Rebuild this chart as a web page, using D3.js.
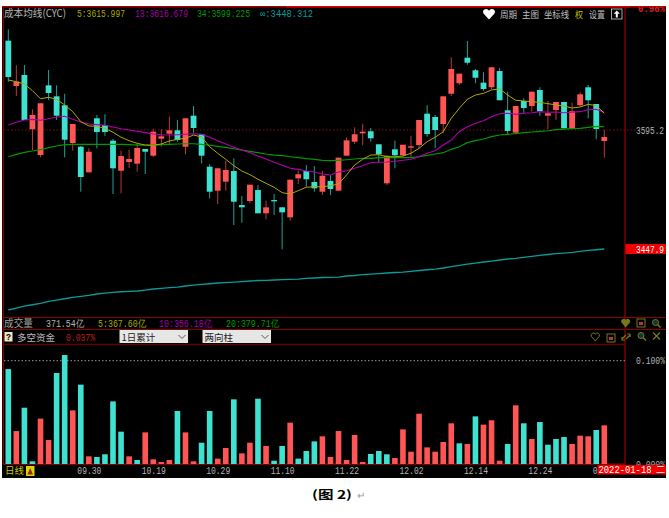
<!DOCTYPE html>
<html><head><meta charset="utf-8">
<script src="https://cdn.jsdelivr.net/npm/d3@7"></script>
<style>html,body{margin:0;padding:0;background:#fff}svg{display:block}</style>
</head><body><div id="c"></div>
<script>
const opens=[3705.8,3649.7,3663.3,3596.1,3564.2,3650.5,3636.9,3625.8,3579.1,3574.5,
3542.8,3609.7,3601.4,3582.0,3544.8,3555.6,3553.5,3571.7,3563.4,3584.4,
3590.6,3594.8,3574.5,3612.9,3589.9,3549.8,3520.1,3531.2,3544.4,3502.3,
3507.3,3520.9,3492.1,3508.5,3499.5,3487.1,3535.4,3544.4,3530.8,3518.8,
3532.1,3520.1,3563.4,3580.7,3591.1,3593.6,3577.5,3529.2,3571.3,3563.9,
3573.3,3576.6,3615.4,3611.3,3602.6,3640.1,3653.0,3684.7,3669.1,3653.8,
3648.1,3668.2,3619.6,3591.9,3631.1,3624.9,3644.7,3612.9,3620.0,3629.9,
3596.4,3625.8,3648.1,3627.4,3581.6];
const closes=[3660.8,3655.0,3607.6,3613.8,3628.3,3641.0,3612.9,3583.2,3602.6,3537.0,
3568.3,3592.7,3592.7,3547.8,3563.0,3559.3,3572.9,3568.3,3593.1,3587.4,
3594.8,3582.8,3609.7,3597.7,3563.4,3518.8,3547.8,3545.7,3506.4,3499.5,
3527.5,3492.1,3499.5,3506.9,3493.3,3533.7,3540.4,3534.2,3523.0,3538.6,
3522.2,3560.9,3582.4,3589.9,3593.1,3584.9,3565.1,3563.4,3563.9,3577.0,
3575.0,3607.6,3590.2,3595.2,3636.9,3670.7,3664.9,3678.5,3659.9,3646.0,
3672.8,3632.0,3594.0,3624.9,3622.4,3642.6,3618.4,3615.9,3629.9,3597.3,
3618.4,3639.4,3632.0,3596.4,3586.5];
const highs=[3719.9,3675.3,3675.7,3620.8,3628.3,3669.5,3650.5,3640.1,3602.6,3575.4,
3572.5,3613.8,3614.6,3584.1,3569.6,3570.4,3578.7,3571.7,3596.4,3596.1,
3611.7,3607.6,3609.7,3624.9,3590.2,3553.1,3547.8,3557.2,3560.2,3513.5,
3527.5,3527.1,3507.7,3516.0,3499.9,3533.7,3545.3,3551.9,3550.6,3544.4,
3539.5,3560.9,3586.2,3598.5,3602.6,3597.7,3577.5,3563.4,3582.0,3577.0,
3587.8,3607.6,3625.8,3613.8,3636.9,3685.2,3664.9,3705.4,3670.7,3666.6,
3672.8,3672.0,3642.6,3624.9,3634.4,3642.6,3648.1,3631.1,3629.9,3629.9,
3629.0,3641.9,3650.9,3627.4,3595.2];
const lows=[3655.0,3637.3,3607.6,3570.4,3561.4,3632.3,3607.6,3561.4,3569.6,3518.8,
3542.8,3572.5,3587.8,3516.0,3516.8,3548.2,3543.6,3540.7,3561.8,3574.5,
3576.6,3580.7,3565.1,3591.5,3554.0,3510.6,3503.6,3520.1,3477.6,3480.4,
3504.5,3492.1,3484.6,3490.0,3447.5,3482.9,3528.3,3525.0,3518.8,3514.7,
3514.7,3520.1,3563.4,3577.9,3576.3,3580.7,3555.2,3527.1,3547.8,3562.1,
3562.1,3572.5,3586.9,3572.5,3591.1,3637.3,3650.9,3676.0,3653.0,3643.9,
3645.6,3632.0,3589.9,3591.1,3615.9,3617.9,3612.5,3596.1,3607.6,3597.3,
3596.4,3624.0,3609.7,3583.7,3560.9];
const ma5=[3657.1,3655.0,3652.1,3643.9,3633.9,3635.7,3633.2,3626.2,3617.9,3605.5,
3600.2,3599.8,3597.3,3592.4,3586.2,3582.0,3578.7,3576.6,3576.3,3577.9,
3581.6,3583.7,3584.9,3589.0,3586.5,3574.5,3566.4,3558.9,3551.0,3544.4,
3539.9,3534.2,3529.2,3524.3,3517.6,3516.0,3520.1,3524.3,3525.0,3525.0,
3526.2,3528.3,3539.5,3551.9,3558.9,3564.2,3564.6,3562.1,3562.1,3563.0,
3566.4,3572.5,3580.7,3586.2,3593.1,3609.7,3622.1,3633.2,3638.5,3640.6,
3644.7,3646.3,3638.5,3632.0,3631.1,3630.2,3629.5,3627.8,3626.2,3624.9,
3622.4,3623.7,3627.0,3625.3,3616.0];
const ma13=[3601.4,3604.7,3607.6,3608.4,3607.2,3609.2,3611.3,3612.2,3608.4,3605.1,
3602.6,3601.8,3601.0,3598.9,3596.8,3595.2,3593.6,3591.9,3590.2,3589.4,
3589.0,3589.4,3589.9,3590.6,3589.9,3586.2,3582.0,3577.9,3573.8,3570.4,
3567.1,3563.0,3559.3,3555.2,3551.5,3547.8,3546.5,3544.4,3543.2,3540.7,
3539.5,3543.2,3544.8,3547.8,3551.0,3554.7,3555.2,3555.6,3556.5,3557.7,
3558.9,3562.1,3566.4,3569.6,3576.6,3582.8,3593.1,3599.3,3603.5,3606.7,
3611.7,3615.4,3615.9,3614.6,3615.9,3616.6,3617.9,3617.1,3617.5,3616.6,
3617.1,3617.9,3620.3,3620.8,3616.7];
const ma34=[3562.1,3565.1,3567.6,3569.2,3570.8,3573.3,3575.4,3577.0,3577.5,3577.5,
3577.5,3577.5,3577.5,3577.5,3577.5,3577.0,3576.6,3576.3,3576.6,3577.0,
3577.5,3577.9,3578.2,3578.2,3577.5,3576.3,3575.0,3573.8,3572.0,3570.4,
3568.8,3567.1,3565.5,3564.2,3563.4,3562.1,3560.9,3559.7,3558.9,3557.7,
3557.2,3557.7,3558.4,3559.3,3560.2,3560.2,3560.9,3561.4,3560.9,3560.9,
3560.9,3562.1,3563.9,3565.5,3567.1,3571.3,3574.5,3579.5,3582.0,3584.1,
3586.9,3589.0,3589.9,3590.6,3591.9,3592.7,3593.6,3594.3,3595.6,3596.4,
3596.8,3597.3,3598.5,3599.8,3599.2];
const maInf=[3372.4,3374.8,3377.3,3378.9,3380.6,3383.1,3384.7,3386.3,3388.1,3389.3,
3390.6,3392.2,3393.4,3394.3,3395.0,3395.5,3395.9,3397.1,3398.4,3399.2,
3400.2,3400.8,3402.1,3403.3,3404.2,3404.9,3405.8,3406.4,3407.0,3407.6,
3408.3,3408.9,3409.1,3409.5,3409.9,3410.4,3410.7,3411.6,3412.0,3412.6,
3412.8,3413.2,3414.5,3415.1,3416.1,3416.9,3417.5,3418.2,3418.8,3419.4,
3420.3,3421.3,3422.2,3423.1,3424.4,3426.2,3427.5,3429.3,3430.5,3431.8,
3433.0,3434.3,3435.5,3436.4,3437.6,3438.8,3440.1,3441.1,3442.1,3442.9,
3443.8,3445.0,3446.3,3447.0,3447.9];
const fundValues=[.0919,.0319,.0545,.0026,.0439,.0232,.0881,.1055,.0519,.0768,
.0074,.0068,.0094,.0606,.0313,.0074,.0039,.0306,.0045,.0019,
.0039,.0513,.0306,.0026,.0206,.0513,.0052,.0155,.0626,.0103,
.0206,.0632,.0174,.0032,.0174,.0400,.0052,.0126,.0219,.0268,
.0068,.0319,.0039,.0281,.0019,.0097,.0126,.0094,.0058,.0335,
.0119,.0487,.0161,.0119,.0213,.0394,.0200,.0194,.0461,.0381,
.0423,.0032,.0194,.0568,.0394,.0242,.0406,.0187,.0242,.0261,
.0194,.0274,.0268,.0329,.0374];
const fundSides=["d","u","d","d","u","u","d","d","u","d",
"u","d","d","d","d","u","d","u","u","u",
"u","d","u","u","d","d","u","u","d","u",
"u","d","u","d","d","u","d","d","d","u",
"u","u","u","u","u","d","d","d","u","u",
"u","u","u","u","u","u","d","u","d","u",
"u","u","d","u","d","u","d","d","d","d",
"u","u","u","d","u"];
const tickIndex=[10,18,26,34,42,50,58,66,74];
const tickLabels=["09.30","10.19","10.29","11.10","11.22","12.02","12.14","12.24","01.18"];
const priceTicks=[3595.2];
const fundTicks=[0,0.1];

const W=669,H=518;
const UP="#ff5555",DOWN="#3fe2d0",FRAME="#8c0000",GRAY="#b4b4b4";
const OLIVE="#a8a800",PURPLE="#a800a8",GREEN="#009a00",TEAL="#009c9c";
const MONO="'Liberation Mono','DejaVu Sans Mono',monospace",CJK="'Noto Sans CJK SC',sans-serif";

const svg=d3.select("#c").append("svg").attr("width",W).attr("height",H);
svg.append("rect").attr("x",2).attr("y",6).attr("width",664).attr("height",472).attr("fill","#000");

const x=d3.scaleLinear().domain([0,74]).range([8.3,604.3]);
const y=d3.scaleLinear().domain([3447.9,3595.2]).range([249,130]);
const yf=d3.scaleLinear().domain([0,0.1]).range([464,360.7]);

function txt(s,tx,ty,col,font,size,w,anchor,weight){
  const t=svg.append("text").attr("x",tx).attr("y",ty).attr("fill",col).attr("font-family",font)
   .attr("font-size",size).attr("text-anchor",anchor||"start").text(s);
  if(w){t.attr("textLength",w).attr("lengthAdjust","spacingAndGlyphs");}
  if(weight)t.attr("font-weight",weight);
  return t;
}
const hline=(x1,x2,yy,c,sw)=>svg.append("line").attr("x1",x1).attr("x2",x2).attr("y1",yy).attr("y2",yy).attr("stroke",c).attr("stroke-width",sw||1);
const vline=(xx,y1,y2,c,sw)=>svg.append("line").attr("x1",xx).attr("x2",xx).attr("y1",y1).attr("y2",y2).attr("stroke",c).attr("stroke-width",sw||1);

// frame
hline(2,666,6.7,"#a00000",1.4);
hline(286,630,6.7,"#e00000",1.4);
vline(3.3,7,464,FRAME,1.2);
vline(625,7,464,FRAME,1.3);
hline(3,666,317.5,FRAME);
hline(3,666,329.5,FRAME);
hline(3,625,344.3,FRAME);
hline(3,625,464.2,"#a00000",1.2);

// reference dotted lines
svg.append("line").attr("x1",4).attr("x2",637).attr("y1",y(3595.2)).attr("y2",y(3595.2))
  .attr("stroke","#7a1010").attr("stroke-dasharray","1.5 2");
svg.append("line").attr("x1",4).attr("x2",625).attr("y1",yf(0.1)).attr("y2",yf(0.1))
  .attr("stroke","#9a9a9a").attr("stroke-dasharray","1.5 2");

// candles
const idx=d3.range(opens.length);
const candles=svg.append("g");
candles.selectAll("line").data(idx).join("line")
  .attr("x1",i=>x(i)).attr("x2",i=>x(i)).attr("y1",i=>y(highs[i])).attr("y2",i=>y(lows[i]))
  .attr("stroke",i=>closes[i]>=opens[i]?"#b93a3a":"#23a296").attr("stroke-width",1);
candles.selectAll("rect").data(idx).join("rect")
  .attr("x",i=>x(i)-2.9).attr("width",5.8)
  .attr("y",i=>y(Math.max(opens[i],closes[i])))
  .attr("height",i=>Math.max(1.2,Math.abs(y(opens[i])-y(closes[i]))))
  .attr("fill",i=>closes[i]>=opens[i]?UP:DOWN);

// moving averages
const lineGen=d3.line().x((d,i)=>x(i)).y(d=>y(d));
[[ma34,"#009a00",1.2],[ma13,"#b000b0",1.1],[ma5,"#b0a800",1],[maInf,"#0a9a9a",1.3]].forEach(([s,c,w])=>{
  svg.append("path").attr("d",lineGen(s)).attr("fill","none").attr("stroke",c).attr("stroke-width",w);
});

// fund bars
svg.append("g").selectAll("rect").data(idx).join("rect")
  .attr("x",i=>x(i)-2.8).attr("width",5.6)
  .attr("y",i=>yf(fundValues[i]))
  .attr("height",i=>yf(0)-yf(fundValues[i]))
  .attr("fill",i=>fundSides[i]==="u"?UP:DOWN);

// date axis
const axisB=svg.append("g").attr("transform","translate(0,464)")
  .call(d3.axisBottom(x).tickValues(tickIndex).tickFormat((d,i)=>tickLabels[i]).tickSize(0).tickPadding(1));
axisB.select(".domain").remove();
axisB.selectAll("text").attr("fill",GRAY).attr("font-family",MONO).attr("font-size",10).attr("y",3)
  .attr("dy","0.71em").attr("textLength",24).attr("lengthAdjust","spacingAndGlyphs");

// right axes
const axisP=svg.append("g").attr("transform","translate(636,0)")
  .call(d3.axisRight(y).tickValues(priceTicks).tickFormat(d3.format(".1f")).tickSize(0).tickPadding(0));
axisP.select(".domain").remove();
axisP.selectAll("text").attr("fill",GRAY).attr("font-family",MONO).attr("font-size",10)
  .attr("textLength",28).attr("lengthAdjust","spacingAndGlyphs");
const axisF=svg.append("g").attr("transform","translate(636,0)")
  .call(d3.axisRight(yf).tickValues(fundTicks).tickFormat(d=>d3.format(".3f")(d)+"%").tickSize(0).tickPadding(0));
axisF.select(".domain").remove();
axisF.selectAll("text").attr("fill",GRAY).attr("font-family",MONO).attr("font-size",10)
  .attr("textLength",29).attr("lengthAdjust","spacingAndGlyphs");

// last price tag
svg.append("rect").attr("x",625.5).attr("y",244).attr("width",40.5).attr("height",10).attr("fill","#f00000");
txt("3447.9",636,252.7,"#fff",MONO,10,28);

// top-right scale
txt("0.98%",638,12,"#e02020",MONO,10,27,"start","bold");
svg.append("rect").attr("x",626).attr("y",0).attr("width",43).attr("height",6).attr("fill","#fff");
hline(626,666,6.7,"#c00000",1.2);

// header
txt("成本均线(CYC)",4,17,"#b8b8b8",CJK,10.5,62);
txt("5:3615.997",77,17.3,OLIVE,MONO,10,48);
txt("13:3616.679",135,17.3,PURPLE,MONO,10,53);
txt("34:3599.225",197,17.3,GREEN,MONO,10,53);
txt("∞:3448.312",260,17.3,TEAL,MONO,10,53);

// top toolbar
svg.append("path").attr("d","M489 19.5 L483.5 13.5 A3 3 0 0 1 489 10.7 A3 3 0 0 1 494.5 13.5 Z").attr("fill","#fff");
txt("周期",500,18,"#c0c0c0",CJK,9,17);
txt("主图",522,18,"#c0c0c0",CJK,9,17);
txt("坐标线",544,18,"#c0c0c0",CJK,9,25);
txt("权",575,18,"#c8c800",CJK,9,8);
txt("设置",589,18,"#c0c0c0",CJK,9,16);
svg.append("rect").attr("x",611.5).attr("y",9).attr("width",10.5).attr("height",10).attr("fill","none").attr("stroke","#d0d0d0").attr("stroke-width",.8);
svg.append("path").attr("d","M616.7 10.5 L613.8 13.8 H615.8 V17.5 H617.8 V13.8 H619.8 Z").attr("fill","#fff");

// volume row
txt("成交量",4,327,"#a0a0a0",CJK,10,29);
txt("371.54亿",46,327,GRAY,MONO,10,38);
txt("5:367.60亿",98,327,OLIVE,MONO,10,48);
txt("10:356.18亿",159,327,PURPLE,MONO,10,53);
txt("20:379.71亿",226,327,GREEN,MONO,10,53);

// fund row
svg.append("rect").attr("x",4.5).attr("y",332).attr("width",8).attr("height",9.5).attr("fill","#f0e6c0");
txt("?",6,340,"#000",MONO,9,5,"start","bold");
txt("多空资金",17,341,"#b8b8b8",CJK,9.5,38);
txt("0.037%",66,340.5,"#c02020",MONO,10,29);
[[119.5,"1日累计"],[202.5,"两向柱"]].forEach(([bx,s])=>{
  svg.append("rect").attr("x",bx).attr("y",330).attr("width",68.5).attr("height",13).attr("fill","#e6e6e6");
  txt(s,bx+2,340.5,"#222",CJK,9.5);
  svg.append("path").attr("d",`M${bx+59} 335 l3.5 3.5 l3.5 -3.5`).attr("fill","none").attr("stroke","#555").attr("stroke-width",1);
});

// small icons
const IC="#77771a";
svg.append("path").attr("d","M625.7 327.5 L621.5 322.5 A2.3 2.3 0 0 1 625.7 320 A2.3 2.3 0 0 1 629.9 322.5 Z").attr("fill",IC);
svg.append("path").attr("d","M595.3 341 L591.5 336.5 A2.2 2.2 0 0 1 595.3 334 A2.2 2.2 0 0 1 599.1 336.5 Z").attr("fill","none").attr("stroke",IC);
[[637,319],[607,334]].forEach(([a,b])=>{
  svg.append("rect").attr("x",a).attr("y",b).attr("width",8).attr("height",8).attr("fill","none").attr("stroke",IC);
  svg.append("rect").attr("x",a+2).attr("y",b+3).attr("width",4).attr("height",3).attr("fill","#a04040");
});
[[655.5,322.5],[641,335.5]].forEach(([a,b])=>{
  svg.append("circle").attr("cx",a).attr("cy",b).attr("r",3).attr("fill","#103838").attr("stroke",IC);
  svg.append("line").attr("x1",a+2).attr("y1",b+2).attr("x2",a+5).attr("y2",b+5).attr("stroke",IC).attr("stroke-width",1.5);
});
svg.append("path").attr("d","M622 339 l4 -4 M630 335 l-4 4 M627 334 h3 v3 M625 340 h-3 v-3").attr("fill","none").attr("stroke",IC).attr("stroke-width",1.2);
svg.append("path").attr("d","M653 332.5 l7 7 M660 332.5 l-7 7").attr("stroke",IC).attr("stroke-width",1.3);

// period footer
txt("日线",5,474,"#c8c800",CJK,9.5,19);
svg.append("rect").attr("x",26).attr("y",466).attr("width",8.5).attr("height",10).attr("fill","#d8d800");
svg.append("path").attr("d","M30.2 468 L33 474.5 H27.4 Z").attr("fill","#a02000");
svg.append("rect").attr("x",597.5).attr("y",465).attr("width",68.5).attr("height",9.5).attr("fill","#f00000");
txt("2022-01-18",598.5,473.3,"#fff",MONO,10,53);
txt("二",656,473.3,"#fff",CJK,9,9);

// caption
txt("(图 2)",332,499,"#000",CJK,11.5,40,"middle","bold");
txt("↵",357,499,"#999",CJK,10);
</script></body></html>
